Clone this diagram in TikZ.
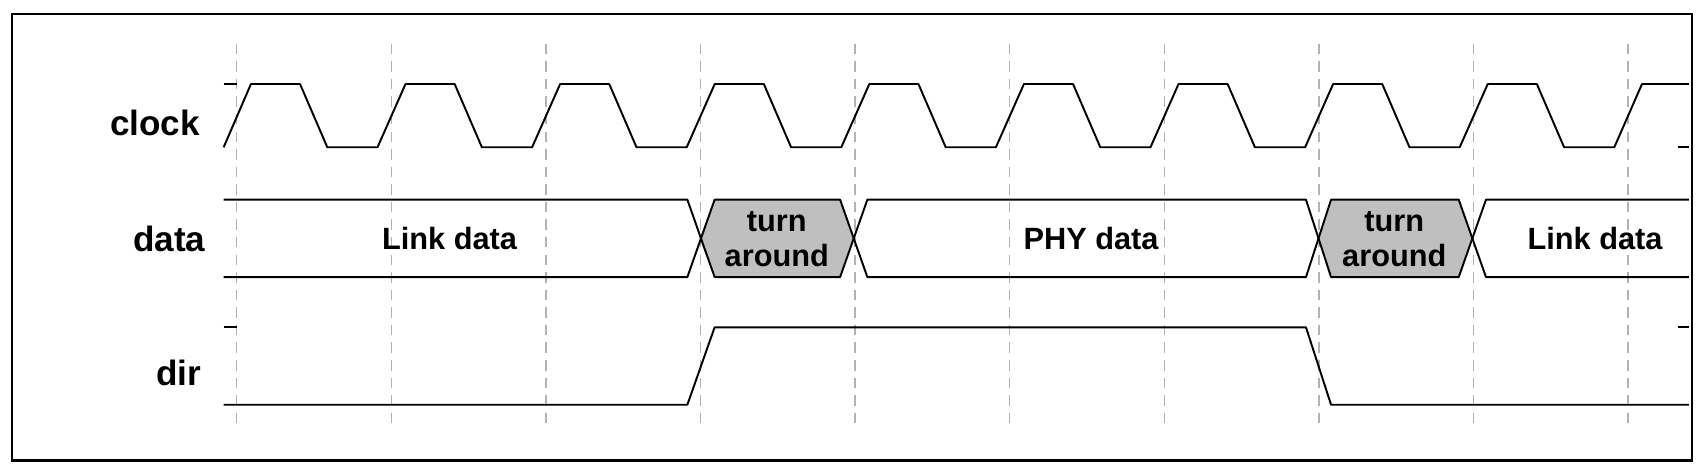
\documentclass[tikz,border=0pt]{standalone}
\usepackage{fontspec}
\setmainfont{Liberation Sans}
\begin{document}
\begin{tikzpicture}[x=0.02182cm,y=-0.02182cm,
  sig/.style={line width=1.1pt,line join=round},
  grid/.style={gray!60,dashed,line width=0.8pt,dash pattern=on 6pt off 4pt},
  lab/.style={font=\bfseries\fontsize{20}{22}\selectfont,anchor=east},
  txt/.style={font=\bfseries\fontsize{17.5}{20}\selectfont,align=center}]
\useasboundingbox (0,0) rectangle (1560,434.5);
\draw[line width=1.4pt] (11,13) rectangle (1551,422);
\foreach \i in {0,...,9} \draw[grid] (217+141.7*\i,40) -- (217+141.7*\i,392);
\node[lab] (lclock) at (189,113) {clock};
\node[lab] (ldata) at (194,219) {data};
\node[lab] (ldir) at (190,342) {dir};
% ticks
\draw[sig] (205,77) -- (217,77);
\draw[sig] (1538,135) -- (1548,135);
\draw[sig] (205,300) -- (217,300);
\draw[sig] (1538,300) -- (1548,300);
% clock
\draw[sig] (205,135)
 \foreach \i in {0,...,8} {
  -- ({230+141.7*\i},77) -- ({275+141.7*\i},77) -- ({300+141.7*\i},135) -- ({346+141.7*\i},135)
 } -- (1505,77) -- (1548,77);
% data
\fill[gray!50] (641,219) -- (655,183) -- (770,183) -- (782,219) -- (770,254) -- (655,254) -- cycle;
\fill[gray!50] (1208,219) -- (1220,183) -- (1337,183) -- (1350,219) -- (1337,254) -- (1220,254) -- cycle;
\draw[sig] (205,183) -- (630,183) -- (655,254) -- (770,254) -- (795,183) -- (1197,183) -- (1220,254) -- (1337,254) -- (1362,183) -- (1548,183);
\draw[sig] (205,254) -- (630,254) -- (655,183) -- (770,183) -- (795,254) -- (1197,254) -- (1220,183) -- (1337,183) -- (1362,254) -- (1548,254);
\node[txt] (d1) at (412,219) {Link data};
\node[txt] (d2) at (712,219) {turn\\around};
\node[txt] (d3) at (1000,219) {PHY data};
\node[txt] (d4) at (1278,219) {turn\\around};
\node[txt] (d5) at (1462,219) {Link data};
% dir
\draw[sig] (205,371) -- (630,371) -- (655,300) -- (1197,300) -- (1220,371) -- (1548,371);
\end{tikzpicture}
\end{document}
